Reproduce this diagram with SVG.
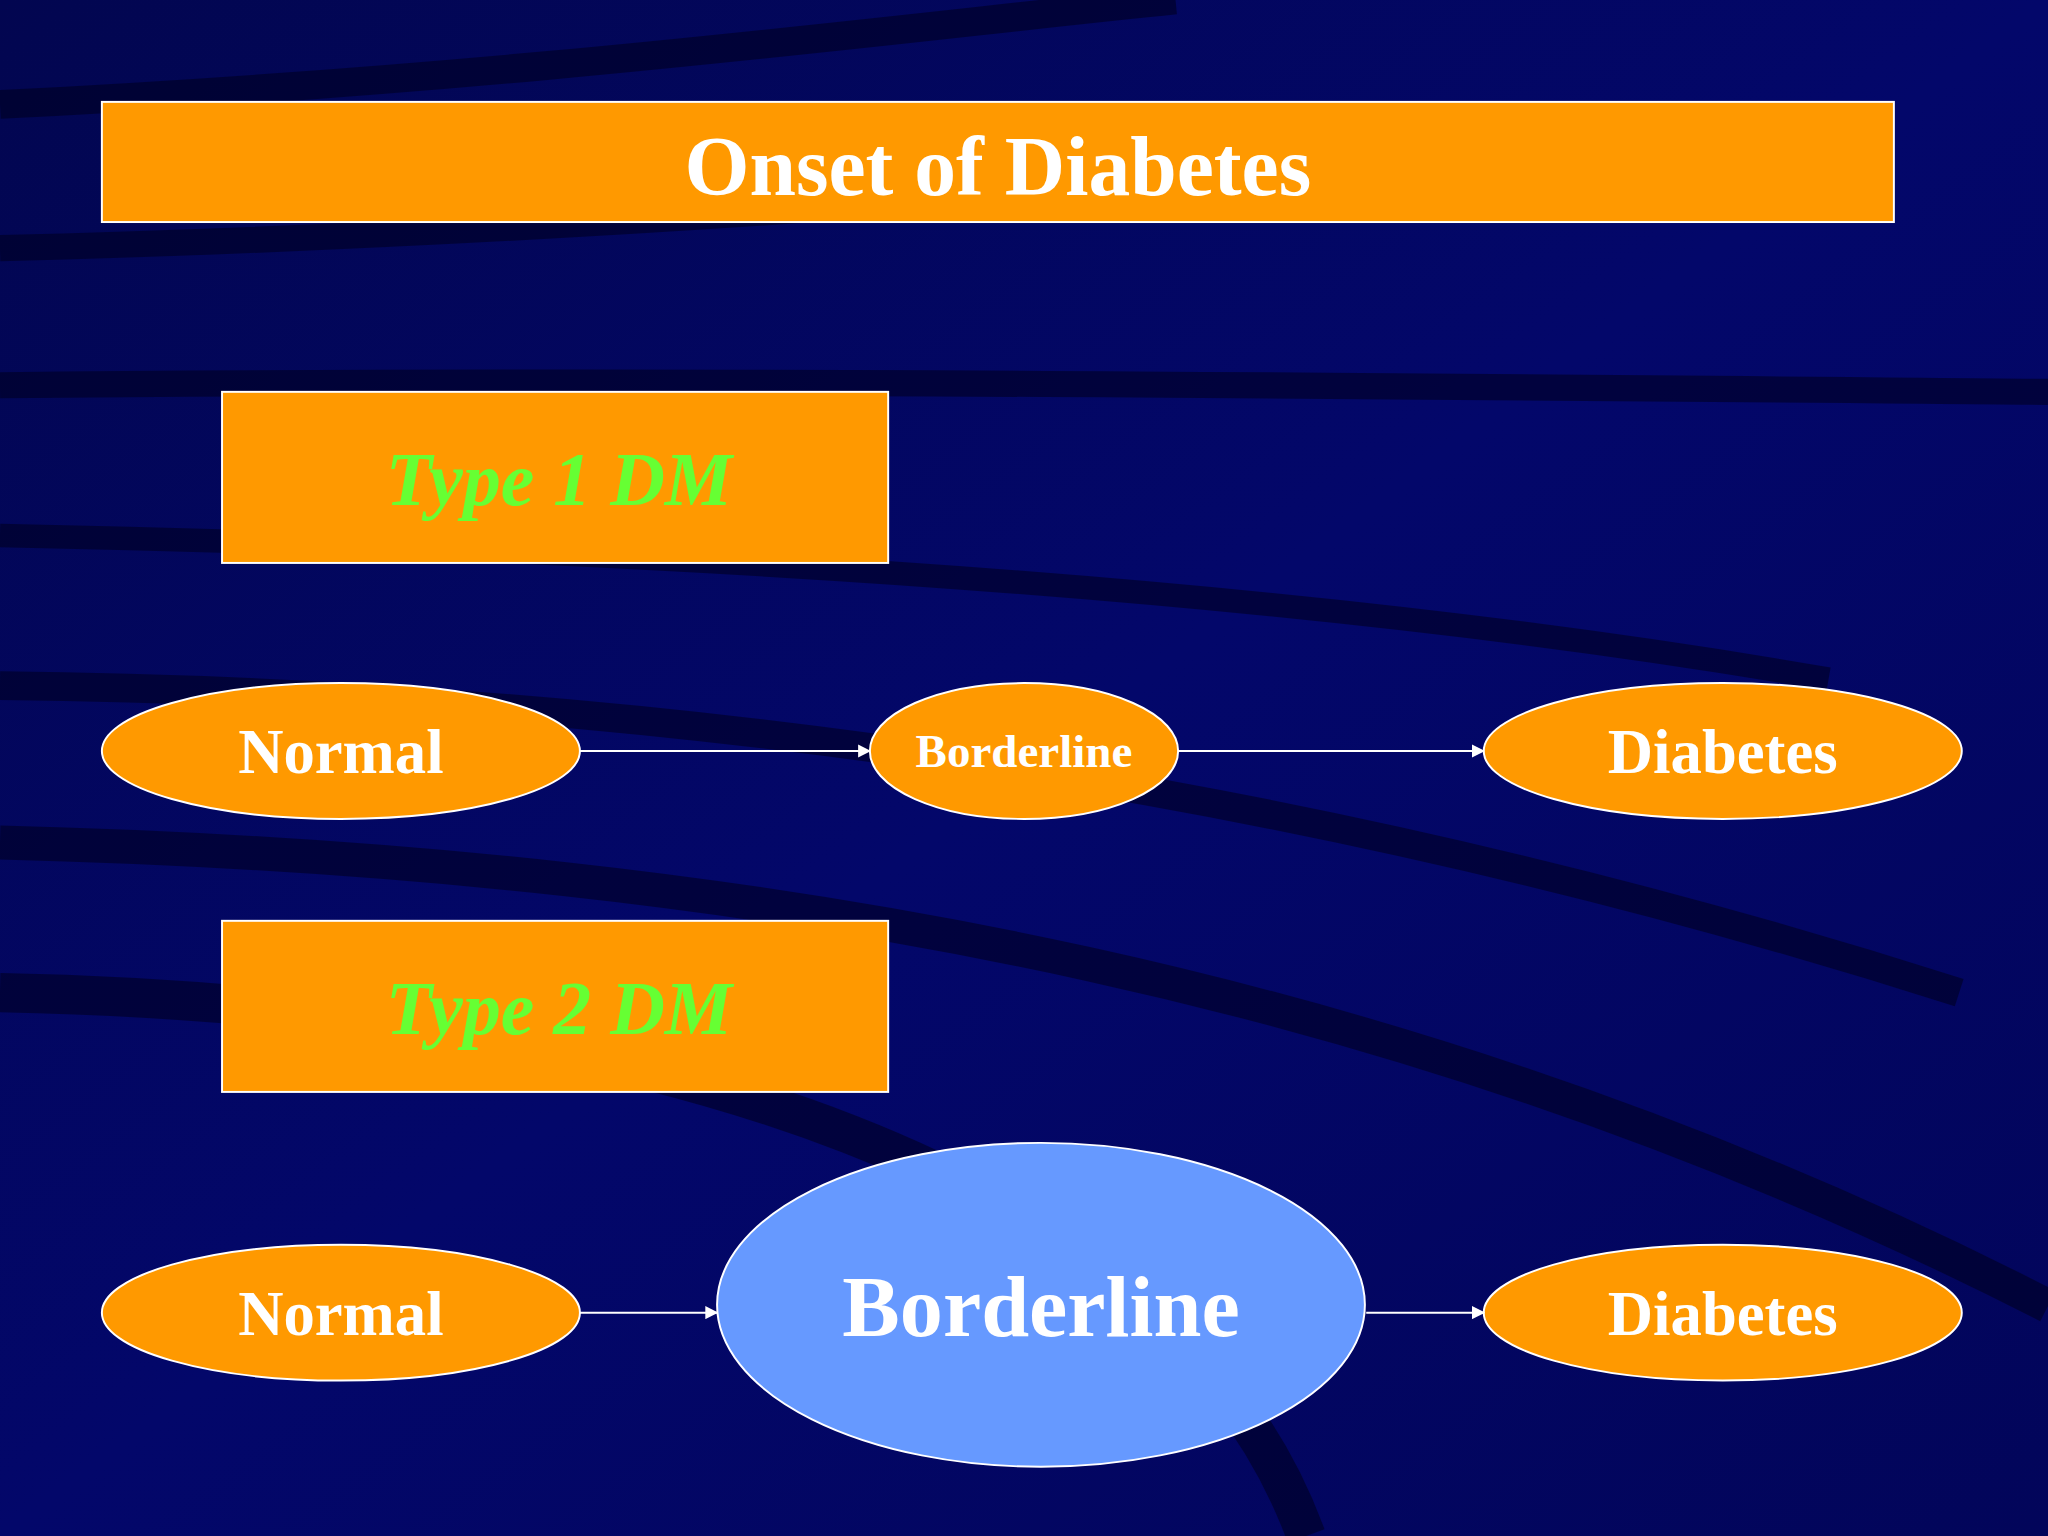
<svg xmlns="http://www.w3.org/2000/svg" width="2048" height="1536" viewBox="0 0 2048 1536">
<defs>
<linearGradient id="bg" x1="0" y1="0" x2="1" y2="1">
<stop offset="0" stop-color="#020650"/><stop offset="0.5" stop-color="#03076a"/><stop offset="1" stop-color="#02055a"/>
</linearGradient>
<marker id="ah" markerWidth="10" markerHeight="10" refX="9" refY="5" orient="auto" markerUnits="userSpaceOnUse"><path d="M0,0 L10,5 L0,10 z" fill="#fff"/></marker>
<style>
.box{fill:#FF9900;stroke:#fff;stroke-width:1.5}
.ell{fill:#FF9900;stroke:#fff;stroke-width:1.5}
.t{font-family:"Liberation Serif",serif;font-weight:bold;fill:#fff;text-anchor:middle}
.g{font-family:"Liberation Serif",serif;font-weight:bold;font-style:italic;fill:#66FF33;text-anchor:middle;font-size:58px}
.c{stroke:#fff;stroke-width:1.5;fill:none;marker-end:url(#ah)}
.band{fill:none;stroke:#000022;stroke-opacity:0.6}
</style>
</defs>
<g transform="scale(1.30612)">
<rect width="1568" height="1176" fill="url(#bg)"/>
<path class="band" stroke-width="22" d="M0,80 C400,60 700,20 900,0"/>
<path class="band" stroke-width="20" d="M0,190 C400,180 800,150 1100,120"/>
<path class="band" stroke-width="20" d="M0,295 C500,290 1000,295 1568,300"/>
<path class="band" stroke-width="18" d="M0,410 C500,420 1000,450 1400,520"/>
<path class="band" stroke-width="22" d="M0,525 C500,530 1000,600 1500,760"/>
<path class="band" stroke-width="26" d="M0,645 C600,660 1100,760 1568,1000"/>
<path class="band" stroke-width="30" d="M0,760 C500,770 900,900 1000,1176"/>
<g id="title"><rect class="box" x="78" y="78" width="1372" height="92"/><text class="t" x="764" y="149" font-size="64">Onset of Diabetes</text></g>
<g id="type1"><rect class="box" x="170" y="300" width="510" height="131"/><text class="g" x="428" y="387">Type 1 DM</text></g>
<g id="type2"><rect class="box" x="170" y="705" width="510" height="131"/><text class="g" x="428" y="792">Type 2 DM</text></g>
<g id="n1"><ellipse class="ell" cx="261" cy="575" rx="183" ry="52"/><text class="t" x="261" y="592" font-size="48">Normal</text></g>
<g id="b1"><ellipse class="ell" cx="784" cy="575" rx="118" ry="52"/><text class="t" x="784" y="587" font-size="36">Borderline</text></g>
<g id="d1"><ellipse class="ell" cx="1319" cy="575" rx="183" ry="52"/><text class="t" x="1319" y="592" font-size="48">Diabetes</text></g>
<g id="n2"><ellipse class="ell" cx="261" cy="1005" rx="183" ry="52"/><text class="t" x="261" y="1022" font-size="48">Normal</text></g>
<g id="b2"><ellipse cx="797" cy="999" rx="248" ry="124" fill="#6699FF" stroke="#fff" stroke-width="1.5"/><text class="t" x="797" y="1023" font-size="66">Borderline</text></g>
<g id="d2"><ellipse class="ell" cx="1319" cy="1005" rx="183" ry="52"/><text class="t" x="1319" y="1022" font-size="48">Diabetes</text></g>
<g id="connectors">
<line class="c" x1="444" y1="575" x2="666" y2="575"/>
<line class="c" x1="902" y1="575" x2="1136" y2="575"/>
<line class="c" x1="444" y1="1005" x2="549" y2="1005"/>
<line class="c" x1="1046" y1="1005" x2="1136" y2="1005"/>
</g>
</g>
</svg>
